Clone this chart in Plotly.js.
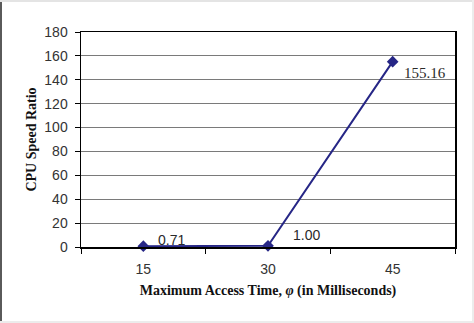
<!DOCTYPE html>
<html>
<head>
<meta charset="utf-8">
<script src="https://cdn.plot.ly/plotly-3.0.1.min.js"></script>
<style>
html,body{margin:0;padding:0;background:#fff;}
#wrap{position:relative;width:474px;height:323px;}
#chart{width:474px;height:323px;}
.edge{position:absolute;pointer-events:none;}
</style>
</head>
<body>
<div id="wrap">
<div id="chart"></div>
<div class="edge" style="left:0;top:0;width:2px;height:323px;background:#5a5a5a;"></div>
<div class="edge" style="left:0;top:0;width:474px;height:2px;background:#e4e4e4;"></div>
<div class="edge" style="right:0;top:0;width:2px;height:323px;background:#ececec;"></div>
<div class="edge" style="left:0;bottom:0;width:474px;height:2px;background:#ececec;"></div>
</div>
<script>
var categories = ["15", "30", "45"];
var speedRatio = [0.71, 1.00, 155.16];
var labelText = ["0.71", "1.00", "155.16"];
var yTicks = [0, 20, 40, 60, 80, 100, 120, 140, 160, 180];

var lineColor = "#262686";

var trace = {
  x: categories,
  y: speedRatio,
  type: "scatter",
  mode: "lines+markers",
  line: {color: lineColor, width: 2},
  marker: {symbol: "diamond", size: 9, color: lineColor},
  hoverinfo: "skip",
  cliponaxis: false
};

var labelStyle = [
  {xshift: 28, yshift: 6, family: "Liberation Sans, Arial, sans-serif", size: 14},
  {xshift: 38, yshift: 11, family: "Liberation Sans, Arial, sans-serif", size: 14},
  {xshift: 32, yshift: -11, family: "Liberation Serif, Times New Roman, serif", size: 15}
];

var annotations = categories.map(function(c, i){
  return {
    x: i, y: speedRatio[i], xref: "x", yref: "y",
    text: labelText[i], showarrow: false,
    xshift: labelStyle[i].xshift, yshift: labelStyle[i].yshift,
    font: {family: labelStyle[i].family, size: labelStyle[i].size, color: "#2a2a2a"}
  };
});

var layout = {
  width: 474, height: 323,
  margin: {l: 81, r: 19, t: 32, b: 76},
  paper_bgcolor: "#fff",
  plot_bgcolor: "#fff",
  showlegend: false,
  xaxis: {
    type: "category",
    range: [-0.5, 2.5],
    tickson: "boundaries",
    ticks: "outside", ticklen: 5, tickcolor: "#000", tickwidth: 1,
    ticklabelstandoff: 9,
    showgrid: false,
    showline: true, linecolor: "#000", linewidth: 1.5, mirror: true,
    zeroline: false,
    tickfont: {family: "Liberation Sans, Arial, sans-serif", size: 14, color: "#333"},
    title: {text: "Maximum Access Time, <i>φ</i> (in Milliseconds)", standoff: 9,
      font: {family: "Liberation Serif, Times New Roman, serif", size: 14, color: "#111", weight: "bold"}}
  },
  yaxis: {
    range: [0, 180],
    tickmode: "array", tickvals: yTicks, ticktext: yTicks.map(String),
    ticks: "outside", ticklen: 5, tickcolor: "#000", tickwidth: 1,
    ticklabelstandoff: 4,
    showgrid: true, gridcolor: "#7a7a7a", gridwidth: 1,
    showline: true, linecolor: "#000", linewidth: 1.5, mirror: true,
    zeroline: false,
    tickfont: {family: "Liberation Sans, Arial, sans-serif", size: 14, color: "#333"},
    title: {text: "CPU Speed Ratio", standoff: 4,
      font: {family: "Liberation Serif, Times New Roman, serif", size: 14, color: "#111", weight: "bold"}}
  },
  annotations: annotations
};

Plotly.newPlot("chart", [trace], layout, {staticPlot: true, displayModeBar: false});
</script>
</body>
</html>
